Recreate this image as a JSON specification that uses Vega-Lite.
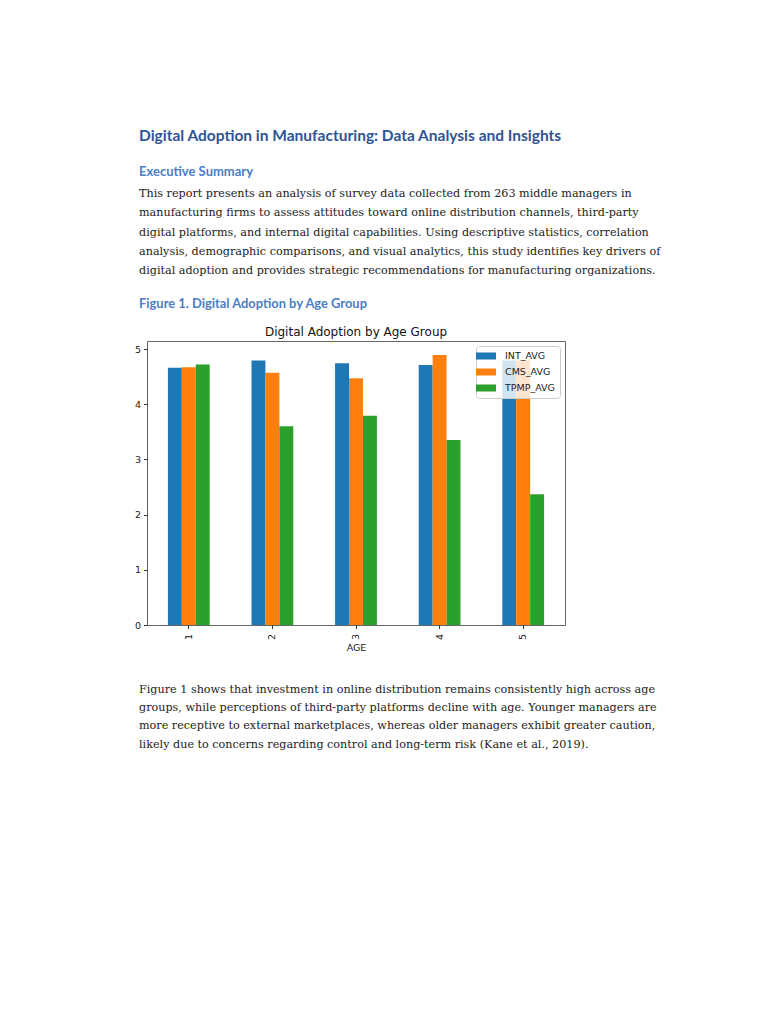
{
  "$schema": "https://vega.github.io/schema/vega-lite/v6.json",
  "background": "white",
  "padding": {"left": 133, "top": 129, "right": 10, "bottom": 10},
  "spacing": 0,
  "resolve": {"legend": {"color": "independent"}},
  "vconcat": [
    {
      "width": 480,
      "height": 0,
      "data": {"values": [{}]},
      "mark": "text",
      "view": {"stroke": null},
      "title": {
        "text": "Digital Adoption in Manufacturing: Data Analysis and Insights",
        "anchor": "start",
        "dx": -8,
        "font": "Lato",
        "fontSize": 15.5,
        "fontWeight": "bold",
        "color": "#2f5496",
        "offset": 1.5
      }
    },
    {
      "width": 480,
      "height": 0,
      "data": {"values": [{}]},
      "mark": "text",
      "view": {"stroke": null},
      "title": {
        "text": "Executive Summary",
        "subtitle": [
          "This report presents an analysis of survey data collected from 263 middle managers in",
          "manufacturing firms to assess attitudes toward online distribution channels, third-party",
          "digital platforms, and internal digital capabilities. Using descriptive statistics, correlation",
          "analysis, demographic comparisons, and visual analytics, this study identifies key drivers of",
          "digital adoption and provides strategic recommendations for manufacturing organizations."
        ],
        "anchor": "start",
        "dx": -8,
        "font": "Lato",
        "fontSize": 13,
        "fontWeight": "bold",
        "color": "#4a7ec6",
        "subtitleFont": "DejaVu Serif",
        "subtitleFontSize": 11.2,
        "subtitleFontWeight": "normal",
        "subtitleLineHeight": 19.2,
        "subtitleColor": "#222222",
        "subtitlePadding": 9,
        "offset": 1.7
      }
    },
    {
      "width": 480,
      "height": 0,
      "data": {"values": [{}]},
      "mark": "text",
      "view": {"stroke": null},
      "title": {
        "text": "Figure 1. Digital Adoption by Age Group",
        "anchor": "start",
        "dx": -8,
        "font": "Lato",
        "fontSize": 12.9,
        "fontWeight": "bold",
        "color": "#4a7ec6",
        "offset": -6.3
      }
    },
    {
      "width": 418,
      "height": 284,
      "data": {
        "values": [
          {"AGE": "1", "metric": "INT_AVG", "value": 4.66},
          {"AGE": "1", "metric": "CMS_AVG", "value": 4.67},
          {"AGE": "1", "metric": "TPMP_AVG", "value": 4.72},
          {"AGE": "2", "metric": "INT_AVG", "value": 4.79},
          {"AGE": "2", "metric": "CMS_AVG", "value": 4.57},
          {"AGE": "2", "metric": "TPMP_AVG", "value": 3.6},
          {"AGE": "3", "metric": "INT_AVG", "value": 4.74},
          {"AGE": "3", "metric": "CMS_AVG", "value": 4.47},
          {"AGE": "3", "metric": "TPMP_AVG", "value": 3.79},
          {"AGE": "4", "metric": "INT_AVG", "value": 4.71},
          {"AGE": "4", "metric": "CMS_AVG", "value": 4.89},
          {"AGE": "4", "metric": "TPMP_AVG", "value": 3.35},
          {"AGE": "5", "metric": "INT_AVG", "value": 4.79},
          {"AGE": "5", "metric": "CMS_AVG", "value": 4.79},
          {"AGE": "5", "metric": "TPMP_AVG", "value": 2.37}
        ]
      },
      "mark": "bar",
      "view": {"stroke": "#666666", "strokeWidth": 1},
      "title": {
        "text": "Digital Adoption by Age Group",
        "anchor": "middle",
        "font": "DejaVu Sans",
        "fontSize": 12,
        "fontWeight": "normal",
        "color": "#111111",
        "offset": 2
      },
      "encoding": {
        "x": {
          "field": "AGE",
          "type": "nominal",
          "title": "AGE",
          "scale": {"paddingInner": 0.5, "paddingOuter": 0.25},
          "axis": {
            "labelAngle": -90,
            "domain": false,
            "tickColor": "#333333",
            "tickSize": 3.5,
            "labelPadding": 5,
            "labelFont": "DejaVu Sans",
            "labelFontSize": 9.5,
            "labelColor": "#222222",
            "titleFont": "DejaVu Sans",
            "titleFontSize": 9.5,
            "titleFontWeight": "normal",
            "titleColor": "#222222",
            "titlePadding": 3
          }
        },
        "xOffset": {
          "field": "metric",
          "type": "nominal",
          "sort": ["INT_AVG", "CMS_AVG", "TPMP_AVG"]
        },
        "y": {
          "field": "value",
          "type": "quantitative",
          "title": null,
          "scale": {"domain": [0, 5.145], "nice": false},
          "axis": {
            "values": [0, 1, 2, 3, 4, 5],
            "grid": false,
            "domain": false,
            "tickColor": "#333333",
            "tickSize": 3.5,
            "labelFont": "DejaVu Sans",
            "labelFontSize": 9.5,
            "labelColor": "#222222",
            "labelPadding": 3
          }
        },
        "color": {
          "field": "metric",
          "type": "nominal",
          "scale": {
            "domain": ["INT_AVG", "CMS_AVG", "TPMP_AVG"],
            "range": ["#1f77b4", "#ff7f0e", "#2ca02c"]
          },
          "legend": {
            "title": null,
            "orient": "top-right",
            "offset": 5,
            "padding": 5,
            "fillColor": "rgba(255,255,255,0.8)",
            "strokeColor": "#cccccc",
            "cornerRadius": 3,
            "symbolType": "M-2,-0.7H2V0.7H-2Z",
            "symbolSize": 100,
            "symbolStrokeWidth": 0,
            "symbolOpacity": 1,
            "labelFont": "DejaVu Sans",
            "labelFontSize": 9.5,
            "labelColor": "#222222",
            "labelOffset": 14,
            "rowPadding": 6
          }
        }
      }
    },
    {
      "width": 480,
      "height": 0,
      "data": {"values": [{}]},
      "mark": "text",
      "view": {"stroke": null},
      "title": {
        "text": [
          "Figure 1 shows that investment in online distribution remains consistently high across age",
          "groups, while perceptions of third-party platforms decline with age. Younger managers are",
          "more receptive to external marketplaces, whereas older managers exhibit greater caution,",
          "likely due to concerns regarding control and long-term risk (Kane et al., 2019)."
        ],
        "orient": "bottom",
        "anchor": "start",
        "dx": -8,
        "font": "DejaVu Serif",
        "fontSize": 11.2,
        "fontWeight": "normal",
        "lineHeight": 18.2,
        "color": "#222222",
        "offset": 11
      }
    }
  ]
}
